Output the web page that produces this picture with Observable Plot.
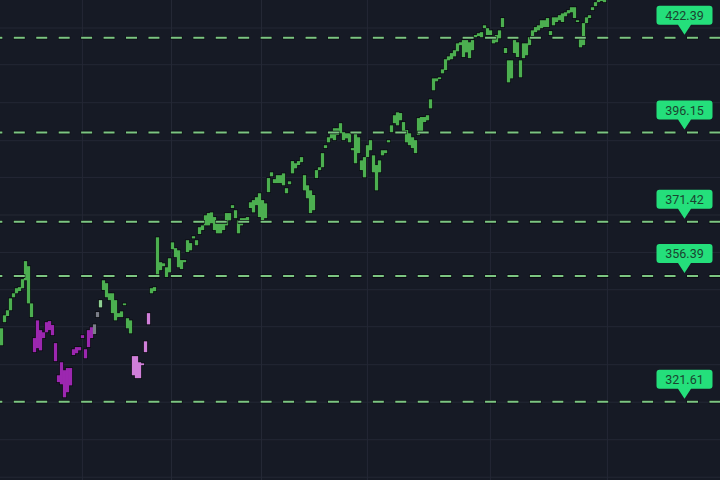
<!DOCTYPE html>
<html><head><meta charset="utf-8">
<script src="https://cdn.jsdelivr.net/npm/d3@7"></script>
<script src="https://cdn.jsdelivr.net/npm/@observablehq/plot@0.6"></script>
<style>
html,body{margin:0;padding:0;background:#161a25;overflow:hidden;}
#chart{width:720px;height:480px;}
</style></head><body><div id="chart"></div>
<script>
// candle body upper / lower prices, one per session
const bodyHi = [341.8,345.4,346.8,350.1,351.5,352.9,353.2,355.4,360.4,359.0,
348.7,339.1,344.0,341.3,340.7,343.5,343.8,342.7,337.7,328.8,
332.4,330.2,330.8,330.8,336.0,336.6,336.6,339.9,336.0,341.3,
342.1,342.9,346.3,349.6,355.1,354.3,351.5,351.5,349.6,346.0,
346.5,348.7,344.6,344.0,334.1,334.1,332.4,332.1,338.2,346.0,
352.9,353.2,367.0,360.1,359.8,358.7,361.2,365.6,364.0,363.4,
360.7,360.7,366.2,365.4,367.3,366.2,369.8,370.3,373.1,373.7,
373.9,372.6,371.7,371.2,371.7,373.7,373.7,375.9,374.5,371.7,
372.3,372.3,372.6,376.7,377.3,378.1,379.2,377.3,376.4,383.4,
385.0,383.1,384.2,384.2,384.7,380.6,382.5,388.1,387.5,388.1,
389.2,384.2,381.4,380.0,378.7,385.6,386.4,390.3,392.5,394.7,
396.1,397.2,397.2,398.6,396.1,395.8,395.8,391.7,395.8,394.7,
388.3,389.2,392.5,393.9,389.7,387.0,388.3,391.1,391.1,393.9,
398.0,400.8,401.6,401.4,398.9,396.7,395.8,394.7,393.9,400.0,
400.3,400.3,400.8,405.2,411.0,411.0,411.3,413.5,416.3,417.1,
418.0,418.8,420.7,421.0,421.6,421.6,421.0,421.6,423.0,423.5,
423.8,425.7,424.9,424.3,422.4,423.0,424.3,427.7,419.4,416.0,
416.0,421.6,421.0,416.0,420.7,420.7,422.4,424.3,425.2,425.7,
427.1,427.1,427.7,424.1,427.9,427.9,428.5,429.0,429.3,429.9,
430.7,430.7,427.1,422.4,426.3,427.9,428.5,430.7,432.1,432.8,
433.0,432.8];
const bodyLo = [337.1,343.5,345.2,346.8,350.4,351.5,352.1,352.9,355.1,348.7,
344.9,335.2,336.3,335.7,339.1,340.7,341.3,339.9,332.7,326.9,
326.3,322.7,324.1,326.0,334.4,334.9,335.7,339.1,333.5,336.6,
339.1,340.2,344.9,347.6,352.4,350.4,349.6,346.0,344.0,344.9,
344.9,348.2,341.8,340.4,328.8,328.0,328.0,331.6,335.2,342.9,
351.5,352.1,355.7,357.9,359.0,356.0,357.3,363.7,361.5,358.7,
358.2,360.1,362.9,363.4,366.7,364.8,367.9,369.0,370.3,370.3,
370.9,369.0,368.1,368.1,369.0,370.3,371.7,375.1,372.3,368.1,
370.3,371.2,371.2,375.1,373.9,375.9,372.6,371.7,372.3,379.5,
383.9,382.0,382.0,382.0,381.4,379.2,381.7,384.7,386.1,387.0,
387.8,380.0,377.8,373.7,374.5,383.4,385.6,386.4,391.7,393.3,
394.4,393.9,395.3,395.8,393.9,394.4,393.3,391.1,387.5,390.3,
385.6,383.6,389.2,391.1,385.0,380.0,385.0,389.7,390.3,393.3,
396.1,398.6,398.0,399.4,395.8,393.3,392.5,391.7,390.3,395.3,
395.8,398.9,399.4,402.7,407.7,410.2,410.8,412.4,413.3,416.0,
416.3,417.1,418.5,420.2,416.9,418.2,416.6,418.8,422.4,422.7,
422.4,424.9,423.0,423.0,420.7,421.0,422.1,425.2,418.0,409.9,
411.0,418.0,416.9,411.3,416.6,417.4,420.2,422.4,423.8,424.3,
424.9,425.2,425.2,423.0,425.7,426.6,427.1,426.6,428.2,429.0,
429.3,427.7,426.6,419.6,420.2,426.3,427.7,429.9,431.0,432.1,
432.4,432.1];
// session index ranges drawn in other tones
const purpleSessions = [11, 30];
const greySessions = [31, 32];
const paleSessions = [33, 33];
const pinkSessions = [44, 49];

const levels = [422.39, 396.15, 371.42, 356.39, 321.61];
const gridPrices = [425.08, 414.92, 404.40, 393.88, 383.72, 373.31, 362.95, 352.62, 342.38, 331.86, 321.48, 311.09, 300.71];
const gridSessions = [26.8, 56.5, 86.5, 121.8, 162.8, 201.8];

const inR = (i, r) => i >= r[0] && i <= r[1];
const candles = bodyHi.map((hi, i) => ({
  i, hi, lo: bodyLo[i],
  color: inR(i, purpleSessions) ? "#9c27b0" : inR(i, greySessions) ? "#7b7e88" :
         inR(i, paleSessions) ? "#8fd093" : inR(i, pinkSessions) ? "#d07fd9" : "#4caf50"
}));

const callout = {
  draw(ctx) {
    const l = -28, r = 28, t = -32, b = -13, rad = 3;
    ctx.moveTo(l + rad, t);
    ctx.lineTo(r - rad, t);
    ctx.arcTo(r, t, r, t + rad, rad);
    ctx.lineTo(r, b - rad);
    ctx.arcTo(r, b, r - rad, b, rad);
    ctx.lineTo(6.5, b);
    ctx.lineTo(0, -3);
    ctx.lineTo(-6.5, b);
    ctx.lineTo(l + rad, b);
    ctx.arcTo(l, b, l, b - rad, rad);
    ctx.lineTo(l, t + rad);
    ctx.arcTo(l, t, l + rad, t, rad);
    ctx.closePath();
  }
};

const candleX = {x1: d => d.i - 0.55, x2: d => d.i + 0.55, y1: "lo", y2: "hi"};
const chart = Plot.plot({
  width: 720, height: 480, margin: 0,
  x: {domain: [-0.5, 239.5], axis: null},
  y: {domain: [299.8, 432.7], axis: null},
  color: {type: "identity"},
  style: {background: "#161a25", overflow: "hidden"},
  marks: [
    Plot.ruleY(gridPrices, {stroke: "#242835", strokeWidth: 1}),
    Plot.ruleX(gridSessions, {stroke: "#242835", strokeWidth: 1}),
    // dark outline under the bodies, then the bodies themselves
    Plot.rect(candles, {...candleX, fill: "#0b0d12", stroke: "#0b0d12", strokeWidth: 1.6}),
    Plot.rect(candles, {...candleX, fill: "color"}),
    Plot.ruleY(levels, {stroke: "#0b0d12", strokeWidth: 3.6, strokeDasharray: "12,10.44", strokeDashoffset: 9.14}),
    Plot.ruleY(levels, {stroke: "#7cc582", strokeWidth: 2, strokeDasharray: "11,11.44", strokeDashoffset: 8.64}),
    Plot.dot(levels, {y: d => d, frameAnchor: "right", dx: -36, symbol: callout, fill: "#24df7b", stroke: null}),
    Plot.text(levels, {y: d => d, frameAnchor: "right", dx: -36, dy: -22, textAnchor: "middle",
      text: d => d.toFixed(2), fill: "#1a4430", fontSize: 12.5, fontFamily: "Roboto"})
  ]
});
document.getElementById("chart").appendChild(chart);
</script></body></html>
